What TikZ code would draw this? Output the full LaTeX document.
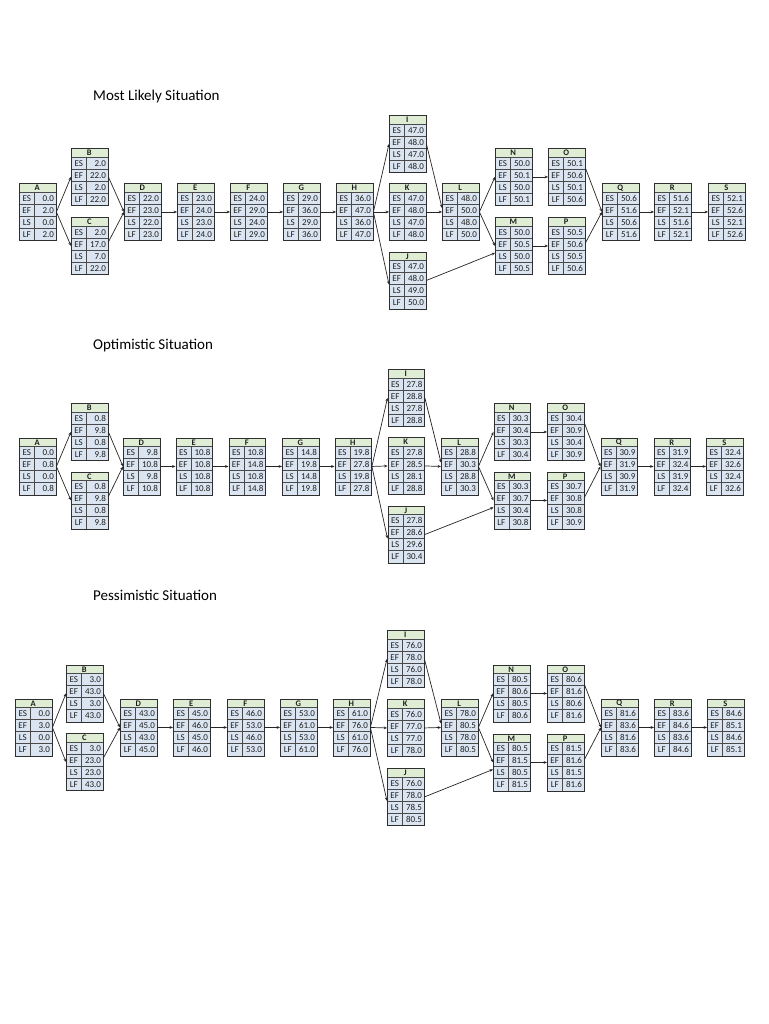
\documentclass[tikz,border=0pt]{standalone}
\usepackage{fontspec}
\setmainfont{Carlito}
\usetikzlibrary{arrows.meta,calc}
\definecolor{hdr}{HTML}{E0EDD5}
\definecolor{cellc}{HTML}{DAE5F1}
\definecolor{bord}{HTML}{2F2F2F}
\definecolor{innerc}{HTML}{4A4A4A}
\definecolor{txt}{HTML}{1E1E1E}
\definecolor{connc}{HTML}{262626}
\tikzset{
  boxnode/.style={inner sep=0pt, minimum width=36.5pt, minimum height=57pt, anchor=north west, draw=bord, line width=0.9pt},
  innerline/.style={draw=innerc, line width=0.6pt},
  hdrtext/.style={inner sep=0pt, text=txt, font=\fontsize{8.5}{9}\selectfont\bfseries},
  lbl/.style={inner sep=0pt, text=txt, font=\fontsize{9}{10}\selectfont},
  val/.style={inner sep=0pt, anchor=east, text=txt, font=\fontsize{9}{10}\selectfont},
  conn/.style={draw=connc, line width=0.7pt, -{Stealth[length=3.4pt,width=2.8pt]}},
  titletext/.style={anchor=west, inner sep=0pt, text=black, font=\fontsize{15}{17}\selectfont},
}
% #1 name, #2 left x, #3 center y, #4 letter, #5..#8 ES EF LS LF
\newcommand\actbox[8]{%
  \begin{scope}[shift={(#2,#3-28.5)}]
    \fill[hdr] (0,0) rectangle (36.5,9);
    \fill[cellc] (0,9) rectangle (36.5,57);
    \foreach \yy in {9,21,33,45} {\draw[innerline] (0,\yy) -- (36.5,\yy);}
    \draw[innerline] (15.5,9) -- (15.5,57);
    \node[boxnode] (#1) at (0,0) {};
    \node[hdrtext] (#1-h) at (18.25,4.8) {#4};
    \node[lbl] (#1-l1) at (7.75,15.3) {ES};
    \node[lbl] (#1-l2) at (7.75,27.3) {EF};
    \node[lbl] (#1-l3) at (7.75,39.3) {LS};
    \node[lbl] (#1-l4) at (7.75,51.3) {LF};
    \node[val] (#1-v1) at (35.2,15.3) {#5};
    \node[val] (#1-v2) at (35.2,27.3) {#6};
    \node[val] (#1-v3) at (35.2,39.3) {#7};
    \node[val] (#1-v4) at (35.2,51.3) {#8};
  \end{scope}}
\newcommand\links[1]{%
  \draw[conn] (#1A.east) -- (#1B.west);
  \draw[conn] (#1A.east) -- (#1C.west);
  \draw[conn] (#1B.east) -- (#1D.west);
  \draw[conn] ([yshift=4pt]#1C.east) -- (#1D.west);
  \draw[conn] (#1D.east) -- (#1E.west);
  \draw[conn] (#1E.east) -- (#1F.west);
  \draw[conn] (#1F.east) -- (#1G.west);
  \draw[conn] (#1G.east) -- (#1H.west);
  \draw[conn] (#1H.east) -- (#1I.west);
  \draw[conn] (#1H.east) -- (#1K.west);
  \draw[conn] (#1H.east) -- ([yshift=-4pt]#1J.west);
  \draw[conn] (#1I.east) -- ([yshift=4pt]#1L.west);
  \draw[conn] (#1K.east) -- (#1L.west);
  \draw[conn] (#1L.east) -- (#1N.west);
  \draw[conn] (#1L.east) -- (#1M.west);
  \draw[conn] (#1J.east) -- ([yshift=-7pt]#1M.west);
  \draw[conn] (#1N.east) -- (#1O.west);
  \draw[conn] (#1M.east) -- (#1P.west);
  \draw[conn] ([yshift=9pt]#1O.east) -- (#1Q.west);
  \draw[conn] ([yshift=3pt]#1P.east) -- (#1Q.west);
  \draw[conn] (#1Q.east) -- (#1R.west);
  \draw[conn] (#1R.east) -- (#1S.west);
}
\begin{document}
\begin{tikzpicture}[x=1pt,y=-1pt]
\useasboundingbox (0,0) rectangle (768,1024);
\fill[white] (0,0) rectangle (768,1024);

% ---------------- Most Likely ----------------
\node[titletext] (t1) at (93,97) {Most Likely Situation};
\actbox{mA}{19}{211.5}{A}{0.0}{2.0}{0.0}{2.0}
\actbox{mB}{71}{176.5}{B}{2.0}{22.0}{2.0}{22.0}
\actbox{mC}{71}{245.5}{C}{2.0}{17.0}{7.0}{22.0}
\actbox{mD}{124}{211.5}{D}{22.0}{23.0}{22.0}{23.0}
\actbox{mE}{177}{211.5}{E}{23.0}{24.0}{23.0}{24.0}
\actbox{mF}{230}{211.5}{F}{24.0}{29.0}{24.0}{29.0}
\actbox{mG}{283}{211.5}{G}{29.0}{36.0}{29.0}{36.0}
\actbox{mH}{336}{211.5}{H}{36.0}{47.0}{36.0}{47.0}
\actbox{mI}{389}{143.5}{I}{47.0}{48.0}{47.0}{48.0}
\actbox{mK}{389}{211.5}{K}{47.0}{48.0}{47.0}{48.0}
\actbox{mJ}{389}{280}{J}{47.0}{48.0}{49.0}{50.0}
\actbox{mL}{442}{211.5}{L}{48.0}{50.0}{48.0}{50.0}
\actbox{mN}{495}{176.5}{N}{50.0}{50.1}{50.0}{50.1}
\actbox{mM}{495}{245.5}{M}{50.0}{50.5}{50.0}{50.5}
\actbox{mO}{548}{176.5}{O}{50.1}{50.6}{50.1}{50.6}
\actbox{mP}{548}{245.5}{P}{50.5}{50.6}{50.5}{50.6}
\actbox{mQ}{602}{211.5}{Q}{50.6}{51.6}{50.6}{51.6}
\actbox{mR}{654}{211.5}{R}{51.6}{52.1}{51.6}{52.1}
\actbox{mS}{708}{211.5}{S}{52.1}{52.6}{52.1}{52.6}
\links{m}

% ---------------- Optimistic ----------------
\node[titletext] (t2) at (93,346) {Optimistic Situation};
\actbox{oA}{19}{466}{A}{0.0}{0.8}{0.0}{0.8}
\actbox{oB}{71}{431.5}{B}{0.8}{9.8}{0.8}{9.8}
\actbox{oC}{71}{500}{C}{0.8}{9.8}{0.8}{9.8}
\actbox{oD}{123}{466}{D}{9.8}{10.8}{9.8}{10.8}
\actbox{oE}{175.5}{466}{E}{10.8}{10.8}{10.8}{10.8}
\actbox{oF}{228.5}{466}{F}{10.8}{14.8}{10.8}{14.8}
\actbox{oG}{282}{466}{G}{14.8}{19.8}{14.8}{19.8}
\actbox{oH}{334.5}{466}{H}{19.8}{27.8}{19.8}{27.8}
\actbox{oI}{387.5}{397.5}{I}{27.8}{28.8}{27.8}{28.8}
\actbox{oK}{387.5}{465.5}{K}{27.8}{28.5}{28.1}{28.8}
\actbox{oJ}{387.5}{534}{J}{27.8}{28.6}{29.6}{30.4}
\actbox{oL}{441}{466}{L}{28.8}{30.3}{28.8}{30.3}
\actbox{oN}{493.5}{431.5}{N}{30.3}{30.4}{30.3}{30.4}
\actbox{oM}{493.5}{500}{M}{30.3}{30.7}{30.4}{30.8}
\actbox{oO}{547}{431.5}{O}{30.4}{30.9}{30.4}{30.9}
\actbox{oP}{547}{500}{P}{30.7}{30.8}{30.8}{30.9}
\actbox{oQ}{600.5}{466}{Q}{30.9}{31.9}{30.9}{31.9}
\actbox{oR}{653.5}{466}{R}{31.9}{32.4}{31.9}{32.4}
\actbox{oS}{706}{466}{S}{32.4}{32.6}{32.4}{32.6}
\links{o}

% ---------------- Pessimistic ----------------
\node[titletext] (t3) at (93,595) {Pessimistic Situation};
\actbox{pA}{15}{727}{A}{0.0}{3.0}{0.0}{3.0}
\actbox{pB}{66}{693}{B}{3.0}{43.0}{3.0}{43.0}
\actbox{pC}{66}{761.5}{C}{3.0}{23.0}{23.0}{43.0}
\actbox{pD}{120}{727}{D}{43.0}{45.0}{43.0}{45.0}
\actbox{pE}{173}{727}{E}{45.0}{46.0}{45.0}{46.0}
\actbox{pF}{227}{727}{F}{46.0}{53.0}{46.0}{53.0}
\actbox{pG}{280}{727}{G}{53.0}{61.0}{53.0}{61.0}
\actbox{pH}{333}{727}{H}{61.0}{76.0}{61.0}{76.0}
\actbox{pI}{387}{658.5}{I}{76.0}{78.0}{76.0}{78.0}
\actbox{pK}{387}{727.5}{K}{76.0}{77.0}{77.0}{78.0}
\actbox{pJ}{387}{796.5}{J}{76.0}{78.0}{78.5}{80.5}
\actbox{pL}{441}{727}{L}{78.0}{80.5}{78.0}{80.5}
\actbox{pN}{493}{693}{N}{80.5}{80.6}{80.5}{80.6}
\actbox{pM}{493}{762}{M}{80.5}{81.5}{80.5}{81.5}
\actbox{pO}{547}{693}{O}{80.6}{81.6}{80.6}{81.6}
\actbox{pP}{547}{762}{P}{81.5}{81.6}{81.5}{81.6}
\actbox{pQ}{601}{727}{Q}{81.6}{83.6}{81.6}{83.6}
\actbox{pR}{654}{727}{R}{83.6}{84.6}{83.6}{84.6}
\actbox{pS}{707}{727}{S}{84.6}{85.1}{84.6}{85.1}
\links{p}
\end{tikzpicture}
\end{document}
